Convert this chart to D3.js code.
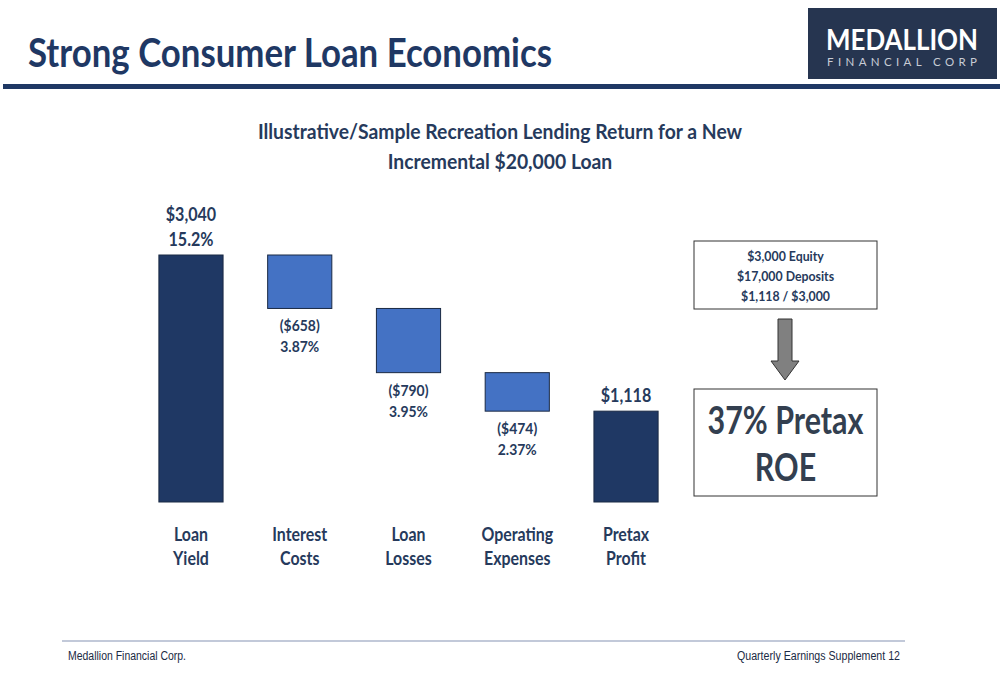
<!DOCTYPE html>
<html>
<head>
<meta charset="utf-8">
<script src="https://cdn.jsdelivr.net/npm/d3@7"></script>
<style>
  body { margin: 0; background: #fff; }
  svg text { font-family: Lato, "Open Sans", sans-serif; }
</style>
</head>
<body>
<div id="chart"></div>
<script>
"use strict";

// data
var categories = ["Loan|Yield", "Interest|Costs", "Loan|Losses", "Operating|Expenses", "Pretax|Profit"];
var amounts = [3040, -658, -790, -474, 1118];
var kinds = ["total", "delta", "delta", "delta", "total"];
var amountLabels = ["$3,040", "($658)", "($790)", "($474)", "$1,118"];
var rateLabels = ["15.2%", "3.87%", "3.95%", "2.37%", ""];
var boxLines = ["$3,000 Equity", "$17,000 Deposits", "$1,118 / $3,000"];
var roeLines = ["37% Pretax", "ROE"];

var W = 1000, H = 685;
var navy = "#1f3864", blue = "#4472c4", ink = "#263a5c";

var svg = d3.select("#chart").append("svg")
  .attr("width", W).attr("height", H);

// Lato is wider than the slide's font, squeeze text a bit
function condense(sel, k) {
  sel.each(function() {
    var len = this.getComputedTextLength();
    d3.select(this).attr("textLength", len * k).attr("lengthAdjust", "spacingAndGlyphs");
  });
}

// header
svg.append("text").attr("x", 28).attr("y", 67)
  .attr("font-size", 40).attr("font-weight", 700).attr("fill", navy)
  .attr("textLength", 524).attr("lengthAdjust", "spacingAndGlyphs")
  .text("Strong Consumer Loan Economics");
svg.append("rect").attr("x", 3).attr("y", 84).attr("width", 997).attr("height", 5).attr("fill", navy);

// logo
svg.append("rect").attr("x", 808).attr("y", 8).attr("width", 189).attr("height", 71).attr("fill", "#263550");
svg.append("text").attr("x", 902).attr("y", 50).attr("text-anchor", "middle")
  .attr("font-size", 29).attr("font-weight", 700).attr("fill", "#fff")
  .attr("textLength", 152).attr("lengthAdjust", "spacingAndGlyphs")
  .text("MEDALLION");
svg.append("text").attr("x", 902).attr("y", 66).attr("text-anchor", "middle")
  .attr("font-size", 11.5).attr("fill", "#c8ccd6")
  .attr("textLength", 150).attr("lengthAdjust", "spacing")
  .text("FINANCIAL CORP");

// chart title
var title = svg.append("text").attr("text-anchor", "middle").attr("font-size", 21)
  .attr("font-weight", 700).attr("fill", ink);
title.append("tspan").attr("x", 500).attr("y", 139).text("Illustrative/Sample Recreation Lending Return for a New");
title.append("tspan").attr("x", 500).attr("y", 169).text("Incremental $20,000 Loan");
condense(title.selectAll("tspan"), 0.92);

// waterfall rows
var running = 0;
var rows = categories.map(function(c, i) {
  var start, end;
  if (kinds[i] === "total") { start = 0; end = amounts[i]; running = amounts[i]; }
  else { start = running; end = running + amounts[i]; running = end; }
  return { cat: c, start: start, end: end, kind: kinds[i], amt: amountLabels[i], rate: rateLabels[i] };
});

var x = d3.scaleBand().domain(categories).range([136.6, 680.4]).paddingInner(0.41).paddingOuter(0.205);
var y = d3.scaleLinear().domain([0, 3040]).range([502, 255]);

var g = svg.append("g");
g.selectAll("rect.bar").data(rows).join("rect").attr("class", "bar")
  .attr("x", d => x(d.cat))
  .attr("y", d => y(Math.max(d.start, d.end)))
  .attr("width", x.bandwidth())
  .attr("height", d => Math.abs(y(d.start) - y(d.end)))
  .attr("fill", d => d.kind === "total" ? navy : blue)
  .attr("stroke", "#1a2a44").attr("stroke-width", 1);

// value labels: above totals, below deltas
var lab = g.selectAll("text.val").data(rows).join("text").attr("class", "val")
  .attr("text-anchor", "middle").attr("font-weight", 700).attr("fill", ink);
lab.each(function(d) {
  var t = d3.select(this);
  var cx = x(d.cat) + x.bandwidth() / 2;
  var top = y(Math.max(d.start, d.end)), bot = y(Math.min(d.start, d.end));
  var lines = d.rate ? [d.amt, d.rate] : [d.amt];
  if (d.kind === "total") {
    t.attr("font-size", 18.5);
    var y0 = top - 9 - (lines.length - 1) * 25;
    lines.forEach((s, k) => t.append("tspan").attr("x", cx).attr("y", y0 + k * 25).text(s));
  } else {
    t.attr("font-size", 16);
    lines.forEach((s, k) => t.append("tspan").attr("x", cx).attr("y", bot + 23 + k * 21).text(s));
  }
});
condense(lab.selectAll("tspan"), 0.87);

// category labels
var cats = g.selectAll("text.cat").data(categories).join("text").attr("class", "cat")
  .attr("text-anchor", "middle").attr("font-size", 18.5).attr("font-weight", 700).attr("fill", ink)
  .each(function(c) {
    var t = d3.select(this), cx = x(c) + x.bandwidth() / 2;
    c.split("|").forEach((s, k) => t.append("tspan").attr("x", cx).attr("y", 541 + k * 24).text(s));
  });
condense(cats.selectAll("tspan"), 0.86);

// ROE side boxes
svg.append("rect").attr("x", 694).attr("y", 241).attr("width", 183).attr("height", 68)
  .attr("fill", "#fff").attr("stroke", "#333").attr("stroke-width", 1);
var bt = svg.append("text").attr("text-anchor", "middle").attr("font-size", 14)
  .attr("font-weight", 700).attr("fill", ink);
boxLines.forEach((s, k) => bt.append("tspan").attr("x", 785.5).attr("y", 261 + k * 20).text(s));
condense(bt.selectAll("tspan"), 0.88);

svg.append("path")
  .attr("d", "M778,319 L792,319 L792,361 L799,361 L785,380 L771,361 L778,361 Z")
  .attr("fill", "#808080").attr("stroke", "#333").attr("stroke-width", 1);

svg.append("rect").attr("x", 694).attr("y", 389).attr("width", 183).attr("height", 107)
  .attr("fill", "#fff").attr("stroke", "#333").attr("stroke-width", 1);
var rt = svg.append("text").attr("text-anchor", "middle").attr("font-size", 39)
  .attr("font-weight", 700).attr("fill", "#333f50");
roeLines.forEach((s, k) => rt.append("tspan").attr("x", 785.5).attr("y", 434 + k * 47).text(s));
condense(rt.selectAll("tspan"), 0.78);

// footer
svg.append("line").attr("x1", 62).attr("x2", 905).attr("y1", 641).attr("y2", 641)
  .attr("stroke", "#8593b3").attr("stroke-width", 1.2);
svg.append("text").attr("x", 68).attr("y", 660).attr("font-size", 12)
  .style("font-family", "'Liberation Sans', Arial, sans-serif").attr("fill", "#1a2a44")
  .attr("textLength", 118).attr("lengthAdjust", "spacingAndGlyphs")
  .text("Medallion Financial Corp.");
svg.append("text").attr("x", 900).attr("y", 660).attr("font-size", 12).attr("text-anchor", "end")
  .style("font-family", "'Liberation Sans', Arial, sans-serif").attr("fill", "#1a2a44")
  .attr("textLength", 163).attr("lengthAdjust", "spacingAndGlyphs")
  .text("Quarterly Earnings Supplement   12");
</script>
</body>
</html>
